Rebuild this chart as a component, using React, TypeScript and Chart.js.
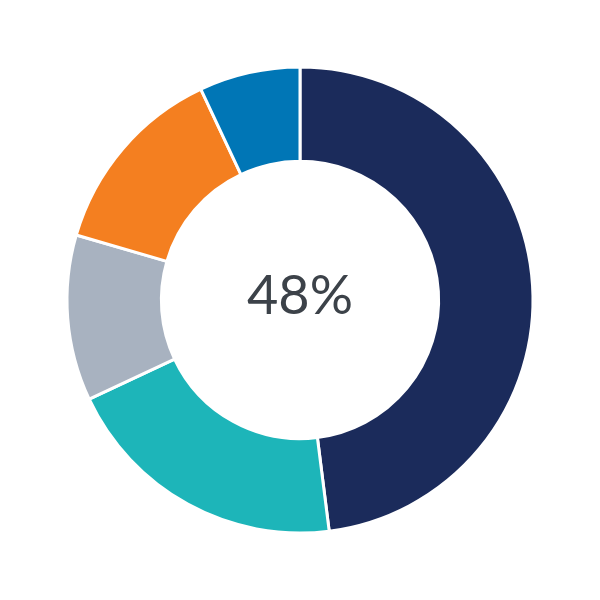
import React, { useEffect, useRef } from "react";
import { Chart, registerables } from "chart.js";

Chart.register(...registerables);

const categories = ["Segment A", "Segment B", "Segment C", "Segment D", "Segment E"];
const values = [48, 20, 11.5, 13.5, 7];
const colors = ["#1b2b5b", "#1db5b9", "#a8b2c0", "#f47f20", "#0076b6"];
const centerLabel = "48%";

const centerTextPlugin = {
  id: "centerText",
  afterDraw(chart: any) {
    const meta = chart.getDatasetMeta(0);
    const arc = meta.data[0];
    if (!arc) return;
    const { x, y } = arc;
    const ctx = chart.ctx;
    ctx.save();
    ctx.font = "400 54px Lato, 'Open Sans', sans-serif";
    ctx.fillStyle = "#3c4249";
    ctx.textAlign = "center";
    ctx.textBaseline = "middle";
    ctx.fillText(centerLabel, x, y - 3);
    ctx.restore();
  },
};

export default function App() {
  const ref = useRef<HTMLCanvasElement>(null);
  useEffect(() => {
    if (!ref.current) return;
    const chart = new Chart(ref.current, {
      type: "doughnut",
      data: {
        labels: categories,
        datasets: [
          {
            data: values,
            backgroundColor: colors,
            borderColor: "#ffffff",
            borderWidth: 3,
          },
        ],
      },
      options: {
        responsive: false,
        animation: false,
        radius: 233,
        cutout: "59.5%",
        layout: { padding: 0 },
        plugins: {
          legend: { display: false },
          tooltip: { enabled: false },
        },
      } as any,
      plugins: [centerTextPlugin],
    });
    return () => chart.destroy();
  }, []);
  return (
    <div style={{ position: "fixed", left: 0, top: 0, width: 600, height: 600, background: "#fff" }}>
      <canvas ref={ref} width={600} height={600} />
    </div>
  );
}
